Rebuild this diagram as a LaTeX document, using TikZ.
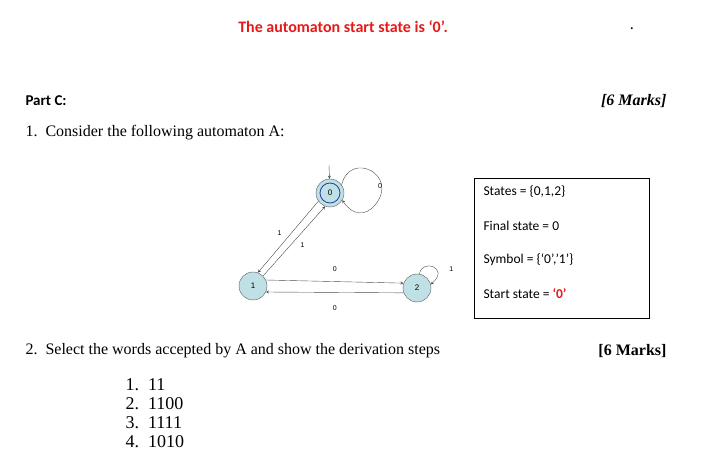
\documentclass[tikz,border=0pt]{standalone}
\usepackage{fontspec}
\setmainfont{Liberation Serif}
\newfontfamily\calib{Carlito}
\newfontfamily\arial{Liberation Sans}
\usetikzlibrary{arrows}
\definecolor{statefill}{rgb}{0.75, 0.88, 0.90}
\definecolor{acceptblue}{rgb}{0.15, 0.25, 0.60}
\definecolor{headred}{rgb}{0.90, 0.10, 0.10}
\tikzstyle{state}=[circle, draw=gray!70!black, fill=statefill, minimum size=28pt, inner sep=0pt, font=\arial\fontsize{8}{9}\selectfont]
\tikzstyle{edge}=[draw=gray!60!black, thin, ->, >=stealth]
\tikzstyle{lbl}=[font=\arial\fontsize{7}{8}\selectfont]
\tikzstyle{boxtext}=[anchor=west, font=\calib\fontsize{13.5}{15}\selectfont]
\tikzstyle{serif}=[anchor=west, font=\fontsize{16}{18}\selectfont]
\tikzstyle{word}=[anchor=west, font=\fontsize{18}{20}\selectfont]
\begin{document}
\begin{tikzpicture}[x=1pt, y=-1pt]
		\useasboundingbox (0,0) rectangle (713,465);
		\node (head) [font=\calib\bfseries\fontsize{16}{18}\selectfont, text=headred] at (343,27) {The automaton start state is ‘0’.};
		\node (dot) [font=\calib\fontsize{16}{18}\selectfont] at (632,29) {.};
		\node (partc) [anchor=west, font=\calib\bfseries\fontsize{15}{17}\selectfont] at (22,101) {Part C:};
		\node (marks1) [anchor=east, font=\bfseries\itshape\fontsize{16}{18}\selectfont] at (670,101) {[6 Marks]};
		\node (q1) [serif] at (22,133) {1.\enspace Consider the following automaton A:};
		
		\node (s0) [state] at (330,193) {};
		\draw [acceptblue, thick] (s0) circle (10pt);
		\node at (s0) [font=\arial\fontsize{8}{9}\selectfont] {0};
		\node (s1) [state] at (253,286) {1};
		\node (s2) [state] at (417,288) {2};
		\coordinate (start) at (329,165);
		
		\draw [edge] (start) -- (s0);
		\draw [edge] (s0.35) .. controls (350,150) and (400,175) .. (375,205) .. controls (365,217) and (352,215) .. (s0.-30) node [lbl, pos=0.1, right=8pt] {};
		\node (l00) [lbl] at (380,186) {0};
		\draw [edge] (s0.215) -- (s1.70) node [lbl, pos=0.45, left=6pt] {1};
		\draw [edge] (s1.45) -- (s0.250) node [lbl, pos=0.45, right=6pt] {1};
		\draw [edge] (s1.25) -- (s2.160) node [lbl, midway, above=6pt] {0};
		\draw [edge] (s2.200) -- (s1.-25) node [lbl, midway, below=10pt] {0};
		\draw [edge] (s2.80) .. controls (422,258) and (450,268) .. (s2.15) node [lbl, pos=0.6, right=10pt] {1};
		
		\node (box) [draw, thick, minimum width=175pt, minimum height=140pt] at (562,248) {};
		\node (t1) [boxtext] at (480,192) {States = \{0,1,2\}};
		\node (t2) [boxtext] at (480,226) {Final state = 0};
		\node (t3) [boxtext] at (480,260) {Symbol = \{‘0’,’1’\}};
		\node (t4) [boxtext] at (480,294) {Start state = \textcolor{headred}{\bfseries‘0’}};
		
		\node (q2) [serif] at (22,351) {2.\enspace Select the words accepted by A and show the derivation steps};
		\node (marks2) [anchor=east, font=\bfseries\fontsize{16}{18}\selectfont] at (670,351) {[6 Marks]};
		\node (w1) [word] at (122,385) {1.\enspace 11};
		\node (w2) [word] at (122,404) {2.\enspace 1100};
		\node (w3) [word] at (122,423) {3.\enspace 1111};
		\node (w4) [word] at (122,442) {4.\enspace 1010};
	\end{tikzpicture}
\end{document}
